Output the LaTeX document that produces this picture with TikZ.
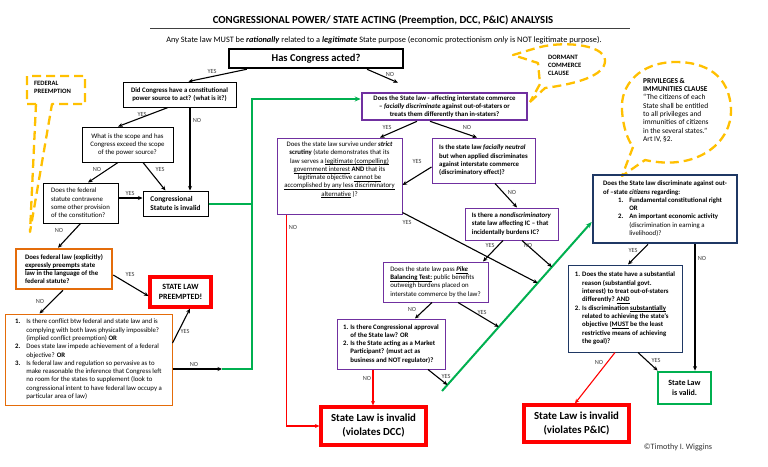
\documentclass[tikz,border=0pt]{standalone}
\usepackage{fontspec}
\setmainfont{Carlito}
\usetikzlibrary{arrows.meta,calc}
\definecolor{cpurple}{HTML}{7030A0}
\definecolor{corange}{HTML}{E46C0A}
\definecolor{cred}{HTML}{FF0000}
\definecolor{cgreen}{HTML}{00B050}
\definecolor{cblue}{HTML}{1F3864}
\definecolor{cyellow}{HTML}{FFC000}
\definecolor{clabel}{HTML}{404040}
\newcommand{\fsz}[2]{\fontsize{#1}{#2}\selectfont}
\newcommand{\bodyfs}{\fsz{6.8}{8.3}}
\newcommand{\ul}[1]{\underline{\smash{#1}}}
\begin{document}
\begin{tikzpicture}[x=1pt,y=-1pt,
 bx/.style={draw, rectangle, inner sep=1pt, align=center, font=\bodyfs, line width=1pt},
 lbl/.style={inner sep=0pt, font=\fsz{6.3}{7}, text=clabel},
 arr/.style={draw=black, line width=1.1pt, -{Stealth[length=4.5pt,width=4pt]}},
 rarr/.style={draw=cred, line width=1.1pt, -{Stealth[length=4.5pt,width=4pt]}},
 gline/.style={draw=cgreen, line width=2pt},
 garr/.style={gline, -{Stealth[length=6pt,width=5pt]}},
 callout/.style={draw=cyellow, line width=2.3pt, dash pattern=on 9pt off 5pt, line join=round}
]
\useasboundingbox (0,0) rectangle (768,466);
\fill[white] (0,0) rectangle (768,466);

% title
\node[inner sep=0, font=\bfseries\fsz{10.8}{12}] (title) at (383,20) {CONGRESSIONAL POWER/ STATE ACTING (Preemption, DCC, P\&IC) ANALYSIS};
\draw[line width=0.8pt, black!75] (150,28) -- (630,28);
\node[inner sep=0, font=\fsz{8.3}{9}] (sub) at (384,40) {Any State law MUST be \textbf{\textit{rationally}} related to a \textbf{\textit{legitimate}} State purpose (economic protectionism \textit{only} is NOT legitimate purpose).};

% callouts
\draw[callout] (36,104) -- (27,104) -- (27,76) -- (85,76) -- (85,104) -- (52,104) -- (30,232) -- cycle;
\node[anchor=north west, inner sep=0, font=\bfseries\fsz{6.6}{8}, align=left] (fptext) at (34,81) {FEDERAL\\PREEMPTION};
\draw[callout] (530,102) -- (545,88) .. controls (575,84) and (606,76) .. (605,60) .. controls (604,44) and (560,40) .. (533,49) -- (513,55) -- (538,63) -- (540,84) -- cycle;
\node[anchor=north west, inner sep=0, font=\bfseries\fsz{6.6}{8}, align=left] (dcctext) at (548,55) {DORMANT\\COMMERCE\\CLAUSE};
\draw[callout] (633,147) -- (622,176) -- (645,160) .. controls (700,172) and (732,140) .. (731,110) .. controls (730,75) and (705,62) .. (676,62) .. controls (640,62) and (620,85) .. (622,110) .. controls (623,128) and (628,140) .. (633,147);
\node[anchor=north west, inner sep=0, font=\fsz{7.4}{8.3}, align=left] (pictext) at (643,78) {\textbf{PRIVILEGES \&}\\\textbf{IMMUNITIES CLAUSE}\\“The citizens of each\\State shall be entitled\\to all privileges and\\immunities of citizens\\in the several states.”\\Art IV, §2.};

% boxes
\node[bx, line width=2.5pt, minimum width=174pt, minimum height=19pt, font=\bfseries\fsz{10.5}{12}] (hca) at (316,58.5) {Has Congress acted?};
\node[bx, minimum width=113pt, minimum height=25pt, font=\bfseries\bodyfs] (cpower) at (179.5,94.5) {Did Congress have a constitutional\\power source to act? (what is it?)};
\node[bx, minimum width=91pt, minimum height=35pt] (scope) at (127.5,144.5) {What is the scope and has\\Congress exceed the scope\\of the power source?};
\node[bx, minimum width=75pt, minimum height=40pt, align=left] (contra) at (80.5,203) {Does the federal\\statute contravene\\some other provision\\of the constitution?};
\node[bx, minimum width=65pt, minimum height=25pt, align=left, font=\bfseries\fsz{7.3}{9}] (cinv) at (175.5,203.5) {Congressional\\Statute is invalid};
\node[bx, draw=corange, line width=2.5pt, minimum width=96pt, minimum height=40pt, align=left, font=\bfseries\bodyfs] (express) at (64,269) {Does federal law (explicitly)\\\ul{expressly preempts} state\\law in the language of the\\federal statute?};
\node[bx, draw=cred, line width=3.2pt, minimum width=61pt, minimum height=30pt, font=\bfseries\fsz{8}{10}] (preempted) at (180.5,292) {STATE LAW\\PREEMPTED!};
\node[bx, draw=corange, line width=1pt, minimum width=167pt, minimum height=91pt, align=left] (list) at (88.5,359.5) {\begin{tabular}{@{}l@{\hspace{6pt}}l@{}}
\textbf{1.} & Is there conflict btw federal and state law and is\\
 & complying with both laws physically impossible?\\
 & (implied conflict preemption) \textbf{OR}\\
\textbf{2.} & Does state law impede achievement of a federal\\
 & objective? \textbf{OR}\\
\textbf{3.} & Is federal law and regulation so pervasive as to\\
 & make reasonable the inference that Congress left\\
 & no room for the states to supplement (look to\\
 & congressional intent to have federal law occupy a\\
 & particular area of law)
\end{tabular}};

\node[bx, draw=cpurple, line width=2.6pt, minimum width=165pt, minimum height=27pt, font=\bfseries\bodyfs] (dcc) at (444.5,106.5) {Does the State law - affecting interstate commerce\\– \textit{facially discriminate} against out-of-staters or\\treats them differently than in-staters?};
\node[bx, draw=cpurple, minimum width=125pt, minimum height=76pt] (strict) at (339.5,176) {};
\node[inner sep=0, anchor=north, align=center, font=\bodyfs] (strictt) at ([yshift=-4pt]strict.north) {Does the state law survive under \textbf{\textit{strict}}\\\textbf{scrutiny} (state demonstrates that its\\law serves a \ul{legitimate (compelling)}\\\ul{government interest} \textbf{AND} that its\\legitimate objective \ul{cannot be}\\\ul{accomplished by any less discriminatory}\\\ul{alternative} )?};
\node[bx, draw=cpurple, minimum width=103pt, minimum height=45pt, align=left, font=\bfseries\bodyfs] (neutral) at (483.5,160.5) {Is the state law \textit{facially neutral}\\but when applied discriminates\\against interstate commerce\\(discriminatory effect)?};
\node[bx, draw=cpurple, minimum width=93pt, minimum height=32pt, align=left, font=\bfseries\bodyfs] (nondisc) at (511.5,224) {Is there a \textit{nondiscriminatory}\\state law affecting IC – that\\incidentally burdens IC?};
\node[bx, draw=cpurple, minimum width=105pt, minimum height=40pt, align=left] (pike) at (435.5,282) {Does the state law pass \ul{\textbf{\textit{Pike}}}\\\ul{\textbf{Balancing Test:}} public benefits\\outweigh burdens placed on\\interstate commerce by the law?};
\node[bx, draw=cpurple, minimum width=108pt, minimum height=50pt, font=\bfseries\bodyfs] (approval) at (391,344) {\begin{tabular}{@{}l@{\hspace{2pt}}l@{}}
1. & Is there Congressional approval\\
 & of the State law? OR\\
2. & Is the State acting as a Market\\
 & Participant? (must act as\\
 & business and NOT regulator)?
\end{tabular}};
\node[bx, draw=cred, line width=3.2pt, minimum width=105pt, minimum height=38pt, font=\bfseries\fsz{10.8}{14}] (dccinv) at (373.5,426) {State Law is invalid\\(violates DCC)};

\node[bx, draw=cblue, line width=2.6pt, minimum width=144pt, minimum height=68pt, font=\bfseries\bodyfs] (pic) at (665,209) {\begin{tabular}{@{\hspace{15pt}}l@{\hspace{6pt}}l@{}}
\multicolumn{2}{@{}l@{}}{Does the State law discriminate against out-}\\
\multicolumn{2}{@{}l@{}}{of –state \textit{citizens} regarding:}\\
1. & Fundamental constitutional right\\
 & OR\\
2. & An important economic activity\\
 & \mdseries(discrimination in earning a\\
 & \mdseries livelihood)?
\end{tabular}};
\node[bx, draw=cblue, minimum width=114pt, minimum height=87pt, font=\bfseries\bodyfs] (subst) at (625,308.5) {\begin{tabular}{@{}l@{\hspace{2pt}}l@{}}
1. & Does the state have a substantial\\
 & reason (substantial govt.\\
 & interest) to treat out-of-staters\\
 & differently? \ul{AND}\\
2. & Is discrimination \ul{substantially}\\
 & related to achieving the state's\\
 & objective (\ul{MUST} be the least\\
 & restrictive means of achieving\\
 & the goal)?
\end{tabular}};
\node[bx, draw=cgreen, line width=2.8pt, minimum width=53pt, minimum height=32pt, font=\bfseries\fsz{8}{10}] (valid) at (684.5,388) {State Law\\is valid.};
\node[bx, draw=cred, line width=3.2pt, minimum width=105pt, minimum height=37pt, font=\bfseries\fsz{10.8}{14}] (picinv) at (576.5,423.5) {State Law is invalid\\(violates P\&IC)};
\node[inner sep=0, font=\fsz{8.2}{9}, text=black!80] (copy) at (678,447) {©Timothy I. Wiggins};

% green path coordinates
\coordinate (gB) at (252,369);
\coordinate (gT) at (252,99);
\coordinate (gS) at (442,391);
\coordinate (gE) at ([yshift=-13pt]pic.west);

% connectors left
\draw[arr] ([xshift=19pt]hca.south west) -- ([xshift=9pt]cpower.north);
\node[lbl] (l1) at (212,71) {YES};
\draw[arr] ([xshift=51pt]hca.south) -- ([xshift=-46.5pt,yshift=9pt]dcc.north);
\node[lbl] (l2) at (390,74) {NO};
\draw[arr] ([xshift=-11.5pt]cpower.south) -- ([xshift=-9.5pt]scope.north);
\node[lbl] (l3) at (142,114) {YES};
\draw[arr] ([xshift=10.5pt]cpower.south) -- ([xshift=10.5pt]cpower.south |- cinv.north);
\node[lbl] (l4) at (197,120) {NO};
\draw[arr] ([xshift=-9.5pt]scope.south) -- ([xshift=7.5pt]contra.north);
\node[lbl] (l5) at (97,169) {NO};
\draw[arr] ([xshift=15.5pt]scope.south) -- ([xshift=-10pt]cinv.north);
\node[lbl] (l6) at (160,169) {YES};
\draw[arr] ([yshift=5pt]contra.east) -- ([yshift=5.5pt]cinv.west);
\node[lbl] (l7) at (130,193) {YES};
\draw[arr] (contra.south) -- ([xshift=-6pt]express.north);
\node[lbl] (l8) at (59,230) {NO};
\draw[arr] ([yshift=-6pt]express.east) -- ([yshift=-4pt]preempted.west);
\node[lbl] (l9) at (130,274) {YES};
\draw[arr] ([xshift=-1pt]express.south) -- ([xshift=-49pt]list.north);
\node[lbl] (l10) at (40,301) {NO};
\draw[arr] ([yshift=16.5pt]list.east) -- ([xshift=9.5pt]preempted.south);
\node[lbl] (l11) at (185,331) {YES};
\draw[arr] ([yshift=-9.5pt]list.east) -- ([xshift=-30pt]gB);
\node[lbl] (l12) at (194,364) {NO};

% green
\draw[gline] (cinv.east) -- (cinv.east -| gB);
\draw[garr] ([xshift=-30pt]gB) -- (gB) -- (gT) -- (gT -| dcc.west);
\draw[garr] (gS) -- (gE);

% DCC connectors
\draw[arr] ([xshift=-27.5pt]dcc.south) -- ([xshift=40.5pt]strict.north);
\node[lbl] (l13) at (387,127) {YES};
\draw[arr] ([xshift=-14.5pt]dcc.south) -- ([xshift=-6.5pt]neutral.north);
\node[lbl] (l14) at (467,127) {NO};
\draw[arr] ([yshift=-6.5pt]neutral.west) -- ([yshift=-9pt]strict.east);
\node[lbl] (l15) at (417,161) {YES};
\draw[arr] ([xshift=11.5pt]neutral.south) -- ([xshift=5.5pt]nondisc.north);
\node[lbl] (l16) at (512,192) {NO};
\draw[arr] ([yshift=2pt]strict.south east) -- ($(gS)!0.639!(gE)$);
\node[lbl] (l17) at (407,222) {YES};
\draw[arr] ([xshift=-8.5pt]nondisc.south) -- ([xshift=47.5pt]pike.north);
\node[lbl] (l18) at (490,245) {YES};
\draw[arr] ([xshift=10.5pt]nondisc.south) -- ($(gS)!0.734!(gE)$);
\node[lbl] (l19) at (528,245) {NO};
\draw[arr] ([xshift=-3.5pt]pike.south) -- ([xshift=24pt]approval.north);
\node[lbl] (l20) at (412,309) {NO};
\draw[arr] ([xshift=22.5pt]pike.south) -- ($(gS)!0.379!(gE)$);
\node[lbl] (l21) at (482,312) {YES};
\draw[rarr] ([xshift=-18pt]approval.south) -- ([xshift=-18pt]approval.south |- dccinv.north);
\node[lbl] (l22) at (367,378) {NO};
\draw[arr] ([xshift=37pt]approval.south) -- ($(gS)!0.036!(gE)$);
\node[lbl] (l23) at (446,376) {YES};
\draw[rarr] ([xshift=10pt]strict.south west) |- (dccinv.west);
\node[lbl] (l24) at (293,227) {NO};

% P&IC connectors
\draw[arr] ([xshift=-17pt]pic.south) -- ([xshift=3pt]subst.north);
\node[lbl] (l25) at (633,250) {YES};
\draw[arr] ([xshift=30pt]pic.south) -- ([xshift=30pt]pic.south |- valid.north);
\node[lbl] (l26) at (702,258) {NO};
\draw[arr] ([xshift=13pt]subst.south) -- ([xshift=1pt]valid.north west);
\node[lbl] (l27) at (656,360) {YES};
\draw[rarr] ([xshift=-10pt]subst.south) -- ([xshift=-1.5pt]picinv.north);
\node[lbl] (l28) at (599,362) {NO};
\end{tikzpicture}
\end{document}
